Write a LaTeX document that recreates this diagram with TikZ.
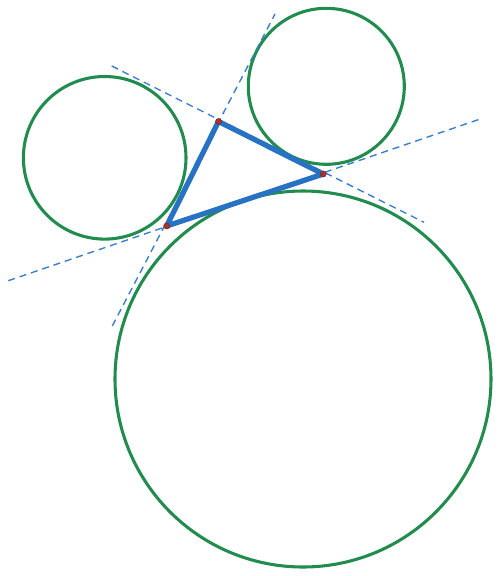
\documentclass[tikz,border=0pt]{standalone}
\usepackage{xcolor}
\usepackage{tikz}
\usetikzlibrary{calc}
\definecolor{circgreen}{RGB}{34,140,78}
\definecolor{triblue}{RGB}{40,114,196}
\definecolor{lineblue}{RGB}{60,128,205}
\definecolor{ptred}{RGB}{170,50,45}

\begin{document}
\begin{tikzpicture}[x=0.02cm,y=-0.02cm,
  circ/.style={circgreen, line width=1.75pt},
  tri/.style={triblue, line width=3pt, line join=round},
  ext/.style={lineblue, line width=0.8pt, dash pattern=on 4pt off 2.8pt},
  pt/.style={fill=ptred, draw=ptred!70!black, line width=0.3pt}]
\useasboundingbox (0,0) rectangle (500,576);

\coordinate (O1) at (104.7,157.8);
\coordinate (O2) at (326.3,86.3);
\coordinate (O3) at (303,379);
\draw[circ] (O1) circle (81.3);
\draw[circ] (O2) circle (78);
\draw[circ] (O3) circle (188);

\coordinate (A) at (218.5,121.5);
\coordinate (B) at (323.3,174);
\coordinate (C) at (166.7,226);

\coordinate (AB1) at (111.7,66);
\coordinate (AB2) at (424,222.3);
\coordinate (CB1) at (8.3,280.7);
\coordinate (CB2) at (482.3,118.3);
\coordinate (CA1) at (112.3,326);
\coordinate (CA2) at (275,14);
\draw[ext] (AB1) -- (AB2);
\draw[ext] (CB1) -- (CB2);
\draw[ext] (CA1) -- (CA2);

\draw[tri] (A) -- (B) -- (C) -- cycle;
\foreach \p in {A,B,C}
  \filldraw[pt] (\p) circle (3);
\end{tikzpicture}
\end{document}
